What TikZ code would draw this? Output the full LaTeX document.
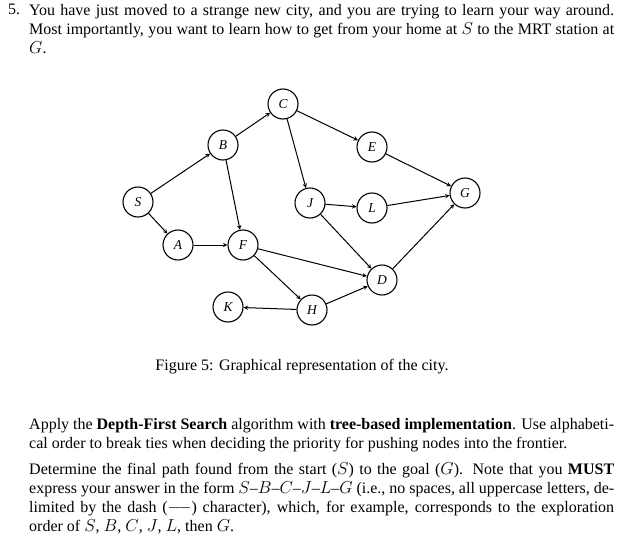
\documentclass[tikz,border=0pt]{standalone}
\usepackage{fontspec}
\setmainfont{Liberation Serif}
\begin{document}
\begin{tikzpicture}[x=1pt,y=-1pt,
  v/.style={circle,draw,line width=1.1pt,minimum size=30pt,inner sep=0pt,font=\fontsize{13.5}{13.5}\selectfont\itshape},
  e/.style={-stealth,line width=1pt},
  para/.style={anchor=north west,inner sep=0pt,text width=585pt,align=justify,font=\fontsize{16}{19}\selectfont}]
\useasboundingbox (0,0) rectangle (629,551);
\node[anchor=north west,inner sep=0pt,font=\fontsize{16}{19}\selectfont] (num) at (8,4) {5.};
\node[para] (p1) at (29,4) {You have just moved to a strange new city, and you are trying to learn your way around. Most importantly, you want to learn how to get from your home at $S$ to the MRT station at $G$.};
\node[v] (S) at (138,202) {S};
\node[v] (B) at (223,145) {B};
\node[v] (C) at (283,104) {C};
\node[v] (E) at (372,147) {E};
\node[v] (J) at (310,203) {J};
\node[v] (L) at (372,208) {L};
\node[v] (G) at (465,193) {G};
\node[v] (A) at (178,245) {A};
\node[v] (F) at (243,245) {F};
\node[v] (D) at (382,280) {D};
\node[v] (K) at (228,307) {K};
\node[v] (H) at (312,310) {H};
\draw[e] (S)--(B); \draw[e] (S)--(A); \draw[e] (B)--(C); \draw[e] (B)--(F);
\draw[e] (A)--(F); \draw[e] (C)--(E); \draw[e] (C)--(J); \draw[e] (E)--(G);
\draw[e] (J)--(L); \draw[e] (J)--(D); \draw[e] (L)--(G); \draw[e] (D)--(G);
\draw[e] (F)--(D); \draw[e] (F)--(H); \draw[e] (H)--(D); \draw[e] (H)--(K);
\node[anchor=center,font=\fontsize{16}{19}\selectfont] (cap) at (302,367) {Figure 5: Graphical representation of the city.};
\node[para] (p2) at (29,418) {Apply the \textbf{Depth-First Search} algorithm with \textbf{tree-based implementation}. Use alphabetical order to break ties when deciding the priority for pushing nodes into the frontier.};
\node[para] (p3) at (29,462) {Determine the final path found from the start ($S$) to the goal ($G$). Note that you \textbf{MUST} express your answer in the form $S$--$B$--$C$--$J$--$L$--$G$ (i.e., no spaces, all uppercase letters, de-\linebreak limited by the dash ($-\!-$) character), which, for example, corresponds to the exploration order of $S$, $B$, $C$, $J$, $L$, then $G$.};
\end{tikzpicture}
\end{document}
